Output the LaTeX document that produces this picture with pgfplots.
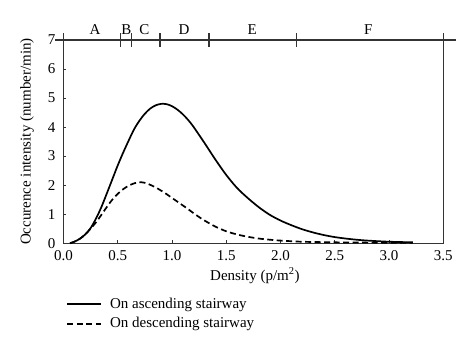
\documentclass[border=0pt]{standalone}
\usepackage{fontspec}
\setmainfont{Liberation Serif}
\usepackage{pgfplots}
\pgfplotsset{compat=1.18}
\definecolor{ax}{HTML}{333333}
\begin{document}
\fontsize{15bp}{18bp}\selectfont
\begin{tikzpicture}
\begin{axis}[
  scale only axis, width=380bp, height=203.3bp,
  xmin=0, xmax=3.5, ymin=0, ymax=7,
  clip=false,
  axis line style={ax, line width=1.1bp},
  tick style={ax, line width=0.8bp},
  tick pos=left, tick align=inside, major tick length=3bp,
  xtick={0,0.5,...,3.5}, ytick={0,1,...,7},
  /pgf/number format/assume math mode=true,
  ticklabel style={font=\fontsize{15bp}{18bp}\selectfont},
  xticklabel style={yshift=-2bp, /pgf/number format/.cd, fixed, fixed zerofill, precision=1},
  yticklabel style={xshift=-3bp},
  xlabel={Density (p/m\textsuperscript{2})},
  ylabel={Occurence intensity (number/min)},
  xlabel style={at={(axis description cs:0.504,-0.16)}, anchor=center},
  ylabel style={at={(axis description cs:-0.096,0.5)}, anchor=center},
  legend style={draw=none, fill=none, at={(axis description cs:0.007,-0.2575)}, anchor=north west,
    inner sep=0pt, row sep=3bp, font=\fontsize{15bp}{18bp}\selectfont,
    /tikz/every odd column/.append style={column sep=6bp}},
  legend cell align=left,
  legend image code/.code={\draw[#1, line width=1.8bp] (0bp,0bp) -- (34bp,0bp);},
]
\path (axis cs:-0.585,-3.81) rectangle (axis cs:3.783,8.378);
\addplot[black, line width=1.7bp, smooth] coordinates {
(0.06,0) (0.10,0.05) (0.15,0.15) (0.20,0.30) (0.25,0.52) (0.30,0.85) (0.35,1.25) (0.40,1.72) (0.45,2.20) (0.50,2.68) (0.55,3.12) (0.60,3.53) (0.65,3.92) (0.70,4.22) (0.75,4.46) (0.80,4.64) (0.85,4.75) (0.90,4.80) (0.95,4.79) (1.00,4.72) (1.05,4.60) (1.10,4.44) (1.15,4.24) (1.20,4.00) (1.30,3.45) (1.40,2.88) (1.50,2.35) (1.60,1.90) (1.70,1.55) (1.80,1.24) (1.90,0.98) (2.00,0.78) (2.10,0.62) (2.20,0.48) (2.30,0.37) (2.40,0.28) (2.50,0.21) (2.60,0.16) (2.70,0.12) (2.80,0.09) (3.00,0.05) (3.22,0.03)
};
\addlegendentry{On ascending stairway}
\addplot[black, line width=1.7bp, dash pattern=on 6bp off 3.5bp, smooth] coordinates {
(0.06,0) (0.10,0.05) (0.15,0.15) (0.20,0.30) (0.25,0.50) (0.30,0.72) (0.35,0.98) (0.40,1.25) (0.45,1.50) (0.50,1.70) (0.55,1.86) (0.60,1.98) (0.65,2.06) (0.70,2.10) (0.75,2.08) (0.80,2.01) (0.85,1.92) (0.90,1.81) (0.95,1.69) (1.00,1.56) (1.05,1.43) (1.10,1.30) (1.15,1.17) (1.20,1.03) (1.25,0.90) (1.30,0.78) (1.40,0.57) (1.50,0.41) (1.60,0.30) (1.70,0.22) (1.80,0.16) (1.90,0.12) (2.00,0.09) (2.20,0.05) (2.50,0.03) (2.80,0.02) (3.22,0.01)
};
\addlegendentry{On descending stairway}
% level-of-service band at top
\draw[ax, line width=1.1bp] (axis cs:-0.078,7) -- (axis cs:3.62,7);
\pgfplotsinvokeforeach{0,0.527,0.629,0.889,1.341,2.149,3.5}{
  \draw[ax, line width=1.1bp] (axis cs:#1,7.24) -- (axis cs:#1,6.76);
}
\node at (axis cs:0.29,7.37) {A};
\node at (axis cs:0.58,7.37) {B};
\node at (axis cs:0.745,7.37) {C};
\node at (axis cs:1.11,7.37) {D};
\node at (axis cs:1.74,7.37) {E};
\node at (axis cs:2.81,7.37) {F};
\end{axis}
\end{tikzpicture}
\end{document}
